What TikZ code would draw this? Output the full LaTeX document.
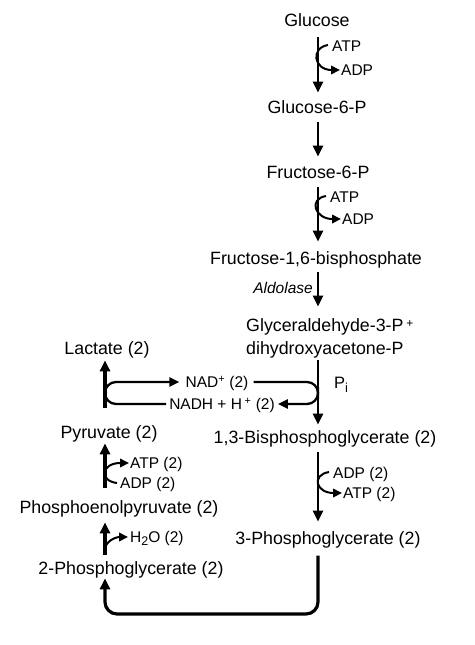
\documentclass[tikz,border=0pt]{standalone}
\usepackage{fontspec}
\setmainfont{Liberation Sans}
\usetikzlibrary{arrows.meta,calc}
\begin{document}
\begin{tikzpicture}[x=1pt,y=-1pt,
  big/.style={inner sep=0pt, font=\fontsize{17.8}{20}\selectfont, text height=12.7pt, text depth=0pt},
  small/.style={inner sep=0pt, font=\fontsize{15.5}{18}\selectfont, text height=11pt, text depth=0pt, anchor=west},
  mainarr/.style={line width=2.3pt, -{Triangle[length=11pt,width=10pt]}},
  leftarr/.style={line width=3.2pt, -{Triangle[length=11pt,width=10pt]}},
  sidearr/.style={line width=2pt, -{Triangle[length=9pt,width=8.5pt]}},
  loopline/.style={line width=2.3pt, rounded corners=11pt},
]
\useasboundingbox (0,0) rectangle (474,645);
\fill[white] (0,0) rectangle (474,645);

% main column
\node[big] (glc) at (317,20) {Glucose};
\node[big] (g6p) at (317,107) {Glucose-6-P};
\node[big] (f6p) at (318,172) {Fructose-6-P};
\node[big] (f16) at (316,258) {Fructose-1,6-bisphosphate};
\node[big, anchor=west] (gap) at (246,325) {Glyceraldehyde-3-P\,\raisebox{4pt}{\fontsize{12}{12}\selectfont +}};
\node[big, anchor=west] (dhap) at (246,348) {dihydroxyacetone-P};
\node[big] (bpg) at (325,437) {1,3-Bisphosphoglycerate (2)};
\node[big] (pg3) at (328,538) {3-Phosphoglycerate (2)};

% left column
\node[big] (lac) at (107,348) {Lactate (2)};
\node[big] (pyr) at (109,432) {Pyruvate (2)};
\node[big] (pep) at (119,507) {Phosphoenolpyruvate (2)};
\node[big] (pg2) at (131,568) {2-Phosphoglycerate (2)};

% small labels
\node[small] (atp1) at (332,46) {ATP};
\node[small] (adp1) at (341,70) {ADP};
\node[small] (atp2) at (330,197) {ATP};
\node[small] (adp2) at (342,219) {ADP};
\node[small, anchor=east, font=\fontsize{15.5}{18}\selectfont\itshape] (ald) at (313,288) {Aldolase};
\node[small, font=\fontsize{16.5}{18}\selectfont] (pi) at (334,383) {P\raisebox{-3.5pt}{\fontsize{13}{13}\selectfont i}};
\node[small, anchor=center] (nad) at (217,382) {NAD\textsuperscript{+} (2)};
\node[small, anchor=center] (nadh) at (222,404) {NADH + H\,\textsuperscript{+} (2)};
\node[small] (adp3) at (333,473) {ADP (2)};
\node[small] (atp3) at (343,493) {ATP (2)};
\node[small] (atp4) at (130,463) {ATP (2)};
\node[small] (adp4) at (120,483) {ADP (2)};
\node[small] (h2o) at (130,537) {H\raisebox{-3pt}{\fontsize{12.5}{12.5}\selectfont 2}O (2)};

% helper coordinates
\coordinate (mx) at (318,0);
\coordinate (lx) at (105,0);
\coordinate (yup) at (0,382);
\coordinate (ydn) at (0,404);
\coordinate (bot) at (0,614);
\coordinate (lj1) at (105,399);
\coordinate (lj2) at (105,387);
\coordinate (rj1) at (318,399);
\coordinate (rj2) at (318,387);
\coordinate (hj) at (105,550);

% main arrows
\draw[mainarr, shorten <=10.8pt, shorten >=7.8pt] (glc.south -| mx) -- (g6p.north -| mx);
\draw[mainarr, shorten <=8.8pt, shorten >=8.8pt] (g6p.south -| mx) -- (f6p.north -| mx);
\draw[mainarr, shorten <=8.8pt, shorten >=9.8pt] (f6p.south -| mx) -- (f16.north -| mx);
\draw[mainarr, shorten <=7.8pt, shorten >=11.8pt] (f16.south -| mx) -- (gap.north -| mx);
\draw[mainarr, shorten <=5.8pt, shorten >=5.8pt] (dhap.south -| mx) -- (bpg.north -| mx);
\draw[mainarr, shorten <=8.8pt, shorten >=9.8pt] (bpg.south -| mx) -- (pg3.north -| mx);
\draw[leftarr, rounded corners=12pt, shorten <=11pt, shorten >=3.8pt]
  (pg3.south -| mx) -- (mx |- bot) -- (lx |- bot) -- (pg2.south -| lx);

% left arrows
\draw[leftarr, shorten <=6.8pt, shorten >=8.8pt] (pg2.north -| lx) -- (pep.south -| lx);
\draw[leftarr, shorten <=12.8pt, shorten >=4.8pt] (pep.north -| lx) -- (pyr.south -| lx);
\draw[leftarr, shorten <=17.8pt, shorten >=5.8pt] (pyr.north -| lx) -- (lac.south -| lx);

% hooks
\draw[sidearr] ($(atp1.west)+(-4,-1)$) .. controls +(-18,3) and +(-26,0) .. ($(adp1.west)+(-1,0)$);
\draw[sidearr] ($(atp2.west)+(-4,-1)$) .. controls +(-18,3) and +(-26,0) .. ($(adp2.west)+(-1,0)$);
\draw[sidearr] ($(adp3.west)+(-4,-1)$) .. controls +(-18,3) and +(-26,0) .. ($(atp3.west)+(-1,0)$);
\draw[sidearr] ($(adp4.west)+(-3,0)$) .. controls +(-18,-2) and +(-28,0) .. ($(atp4.west)+(-1,0)$);
\draw[sidearr] (hj) .. controls +(0,-9) and +(-12,0) .. ($(h2o.west)+(-2,0)$);

% NAD loop
\draw[loopline, -{Triangle[length=10pt,width=9pt]}, shorten >=6pt] (lj1) -- (lx |- yup) -- (nad.west);
\draw[loopline, shorten <=5pt] (nad.east) -- (mx |- yup) -- (rj1);
\draw[loopline, shorten <=3pt] (nadh.west) -- (lx |- ydn) -- (lj2);
\draw[loopline, -{Triangle[length=10pt,width=9pt]}, shorten >=3pt] (rj2) -- (mx |- ydn) -- (nadh.east);
\end{tikzpicture}
\end{document}
